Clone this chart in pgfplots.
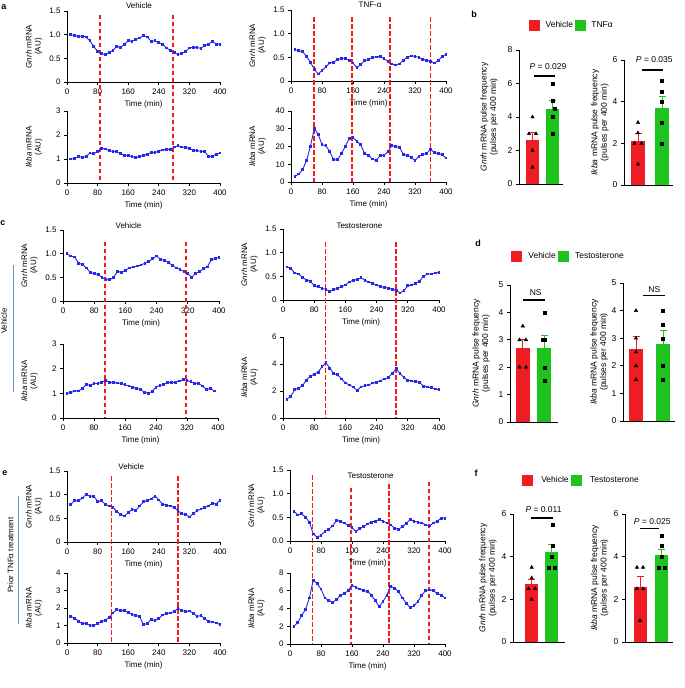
\documentclass[border=0pt]{standalone}
\usepackage{pgfplots}
\pgfplotsset{compat=1.18}
\usepackage{fontspec}
\setmainfont{Liberation Sans}
\definecolor{vred}{RGB}{240,28,36}
\definecolor{vgreen}{RGB}{30,195,30}
\definecolor{dred}{RGB}{245,25,25}
\definecolor{lblue}{RGB}{40,40,235}
\definecolor{sideblue}{RGB}{90,150,220}
\newcommand{\fs}{\fontsize{8}{9}\selectfont}
\newcommand{\fb}{\fontsize{8.5}{9.5}\selectfont}
\pgfplotsset{
 lineax/.style={scale only axis, anchor=south west, axis lines=left,
   axis line style={-, line width=0.9pt}, every tick/.style={black, line width=0.9pt},
   tick align=outside, major tick length=3pt, xmin=0, xmax=400, ymin=0,
   xtick={0,80,...,400}, clip=false, xlabel={Time (min)},
   ticklabel style={font=\fs}, label style={font=\fs},
   ylabel style={at={(axis description cs:-0.215,0.5)}, anchor=center, align=center},
   /pgf/number format/assume math mode=true, title style={font=\fs, anchor=center}},
 dat/.style={color=lblue, line width=0.9pt, mark=square*, mark size=0.9pt},
 rdash/.style={draw=dred, color=dred, line width=1.7pt, dash pattern=on 4.5pt off 2.5pt},
 barax/.style={scale only axis, anchor=south west, axis lines=left,
   axis line style={-, line width=0.9pt}, xtick=\empty, ymin=0, xmin=0, clip=false,
   tick align=outside, major tick length=3pt, every tick/.style={black, line width=0.9pt},
   ticklabel style={font=\fb}, label style={font=\fb},
   ylabel style={anchor=center, align=center},
   /pgf/number format/assume math mode=true},
 bars/.style 2 args={ybar, bar shift=0pt, bar width=#1, fill=#2, draw=none, forget plot,
   error bars/.cd, y dir=plus, y explicit, error bar style={color=#2, line width=1pt},
   error mark options={rotate=90, mark size=3.5pt, color=#2, line width=1pt}},
 tri/.style={only marks, mark=triangle*, mark size=2pt, black, forget plot},
 sqr/.style={only marks, mark=square*, mark size=1.5pt, black, forget plot},
 sig/.style={black, line width=1.3pt, forget plot},
 sqleg/.style={legend image code/.code={\fill[#1] (0pt,-5pt) rectangle (10pt,5pt);}},
}
\begin{document}
\begin{tikzpicture}
\path[use as bounding box] (0,0) rectangle (685pt,-688pt);
% ---------- panel a ----------
\begin{axis}[lineax, at={(67pt,-82pt)}, width=153pt, height=71pt, ymax=1.5,
  ytick={0,0.5,1,1.5}, yticklabels={0,0.5,1.0,1.5},
  ylabel={\textit{Gnrh} mRNA\\(AU)}, title={Vehicle}, title style={at={(axis description cs:0.47,0.985)}}]
\addplot[dat] coordinates {(10,1.00)(20,0.98)(30,0.97)(40,0.97)(50,0.95)(60,0.87)(70,0.75)(80,0.65)(90,0.60)(100,0.58)(110,0.62)(120,0.67)(130,0.75)(140,0.73)(150,0.80)(160,0.87)(170,0.86)(180,0.90)(190,0.93)(200,0.98)(210,0.95)(220,0.86)(230,0.87)(240,0.83)(250,0.80)(260,0.72)(270,0.67)(280,0.62)(290,0.58)(300,0.60)(310,0.65)(320,0.72)(330,0.73)(340,0.73)(350,0.71)(360,0.77)(370,0.80)(380,0.86)(390,0.80)(400,0.80)};
\addplot[rdash] coordinates {(86,1.416)(86,-2.134)};
\addplot[rdash] coordinates {(277,1.416)(277,-2.134)};
\end{axis}
\begin{axis}[lineax, at={(67pt,-183pt)}, width=153pt, height=72pt, ymax=3,
  ytick={0,1,2,3}, ylabel={\textit{Ikba} mRNA\\(AU)}]
\addplot[dat] coordinates {(10,1.00)(20,1.02)(30,1.10)(40,1.08)(50,1.10)(60,1.25)(70,1.22)(80,1.32)(90,1.45)(100,1.42)(110,1.35)(120,1.32)(130,1.30)(140,1.22)(150,1.15)(160,1.14)(170,1.10)(180,1.05)(190,1.10)(200,1.15)(210,1.20)(220,1.27)(230,1.27)(240,1.32)(250,1.38)(260,1.40)(270,1.40)(280,1.50)(290,1.55)(300,1.50)(310,1.48)(320,1.45)(330,1.35)(340,1.35)(350,1.32)(360,1.32)(370,1.10)(380,1.12)(390,1.20)(400,1.25)};
\end{axis}
\begin{axis}[lineax, at={(291pt,-81pt)}, width=155pt, height=71pt, ymax=1.5,
  ytick={0,0.5,1,1.5}, yticklabels={0,0.5,1.0,1.5},
  ylabel={\textit{Gnrh} mRNA\\(AU)}, title={TNF-α}, title style={at={(axis description cs:0.51,0.99)}}]
\addplot[dat] coordinates {(10,0.66)(20,0.64)(30,0.62)(40,0.52)(50,0.40)(60,0.25)(70,0.15)(80,0.22)(90,0.30)(100,0.38)(110,0.40)(120,0.45)(130,0.48)(140,0.48)(150,0.44)(160,0.38)(170,0.28)(180,0.35)(190,0.43)(200,0.45)(210,0.50)(220,0.51)(230,0.52)(240,0.47)(250,0.42)(260,0.36)(270,0.34)(280,0.36)(290,0.44)(300,0.50)(310,0.53)(320,0.52)(330,0.50)(340,0.46)(350,0.43)(360,0.42)(370,0.38)(380,0.43)(390,0.52)(400,0.56)};
\addplot[rdash] coordinates {(59,1.352)(59,-2.134)};
\addplot[rdash] coordinates {(157,1.352)(157,-2.134)};
\addplot[rdash] coordinates {(256,1.352)(256,-2.134)};
\addplot[rdash] coordinates {(360,1.352)(360,-2.134)};
\end{axis}
\begin{axis}[lineax, at={(291pt,-182pt)}, width=155pt, height=71pt, ymax=40,
  ytick={0,10,20,30,40}, ylabel={\textit{Ikba} mRNA\\(AU)}]
\addplot[dat] coordinates {(10,3)(20,4.5)(30,7)(40,12)(50,20)(60,30)(70,27)(80,21)(90,20.5)(100,17)(110,12.5)(120,12.5)(130,16)(140,20)(150,24.5)(160,25)(170,23)(180,21)(190,16)(200,15)(210,13)(220,12)(230,15)(240,15)(250,17)(260,20.5)(270,20)(280,19.5)(290,15.5)(300,15)(310,14)(320,12)(330,14.5)(340,15.5)(350,16)(360,18.5)(370,16.5)(380,16)(390,15.5)(400,13.5)};
\end{axis}
% ---------- panel c ----------
\begin{axis}[lineax, at={(63pt,-301pt)}, width=156pt, height=71pt, ymax=1.5,
  ytick={0,0.5,1,1.5}, yticklabels={0,0.5,1.0,1.5},
  ylabel={\textit{Gnrh} mRNA\\(AU)}, title={Vehicle}, title style={at={(axis description cs:0.42,0.97)}}]
\addplot[dat] coordinates {(10,1.00)(20,0.95)(30,0.93)(40,0.80)(50,0.77)(60,0.70)(70,0.60)(80,0.58)(90,0.56)(100,0.50)(110,0.45)(120,0.45)(130,0.50)(140,0.63)(150,0.60)(160,0.65)(170,0.70)(180,0.72)(190,0.74)(200,0.76)(210,0.80)(220,0.83)(230,0.90)(240,0.95)(250,0.88)(260,0.86)(270,0.82)(280,0.75)(290,0.70)(300,0.67)(310,0.62)(320,0.58)(330,0.50)(340,0.58)(350,0.62)(360,0.68)(370,0.72)(380,0.87)(390,0.90)(400,0.92)};
\addplot[rdash] coordinates {(107,1.247)(107,-2.472)};
\addplot[rdash] coordinates {(315,1.247)(315,-2.472)};
\end{axis}
\begin{axis}[lineax, at={(63pt,-418pt)}, width=155pt, height=74pt, ymax=3,
  ytick={0,1,2,3}, ylabel={\textit{Ikba} mRNA\\(AU)}]
\addplot[dat] coordinates {(10,1.00)(20,1.02)(30,1.10)(40,1.10)(50,1.20)(60,1.35)(70,1.32)(80,1.40)(90,1.40)(100,1.45)(110,1.52)(120,1.45)(130,1.43)(140,1.42)(150,1.40)(160,1.35)(170,1.30)(180,1.25)(190,1.20)(200,1.15)(210,1.05)(220,1.00)(230,1.08)(240,1.25)(250,1.33)(260,1.35)(270,1.45)(280,1.43)(290,1.45)(300,1.50)(310,1.55)(320,1.52)(330,1.47)(340,1.40)(350,1.40)(360,1.30)(370,1.15)(380,1.20)(390,1.10)};
\end{axis}
\begin{axis}[lineax, at={(283pt,-300pt)}, width=156pt, height=71pt, ymax=1.5,
  ytick={0,0.5,1,1.5}, yticklabels={0,0.5,1.0,1.5},
  ylabel={\textit{Gnrh} mRNA\\(AU)}, title={Testosterone}, title style={at={(axis description cs:0.49,0.96)}}]
\addplot[dat] coordinates {(10,0.70)(20,0.67)(30,0.57)(40,0.55)(50,0.48)(60,0.42)(70,0.40)(80,0.30)(90,0.28)(100,0.25)(110,0.22)(120,0.18)(130,0.22)(140,0.25)(150,0.28)(160,0.32)(170,0.38)(180,0.42)(190,0.43)(200,0.47)(210,0.42)(220,0.38)(230,0.35)(240,0.32)(250,0.28)(260,0.27)(270,0.25)(280,0.23)(290,0.20)(300,0.15)(310,0.20)(320,0.30)(330,0.32)(340,0.35)(350,0.40)(360,0.50)(370,0.55)(380,0.55)(390,0.57)(400,0.58)};
\addplot[rdash] coordinates {(109,1.225)(109,-2.493)};
\addplot[rdash] coordinates {(290,1.225)(290,-2.493)};
\end{axis}
\begin{axis}[lineax, at={(283pt,-418pt)}, width=156pt, height=81pt, ymax=6,
  ytick={0,2,4,6}, ylabel={\textit{Ikba} mRNA\\(AU)}]
\addplot[dat] coordinates {(10,1.40)(20,1.60)(30,2.10)(40,2.20)(50,2.40)(60,2.80)(70,3.10)(80,3.25)(90,3.40)(100,3.80)(110,4.10)(120,3.70)(130,3.30)(140,3.20)(150,2.90)(160,2.60)(170,2.45)(180,2.30)(190,2.05)(200,2.30)(210,2.40)(220,2.45)(230,2.60)(240,2.65)(250,2.75)(260,2.90)(270,3.00)(280,3.30)(290,3.65)(300,3.30)(310,3.00)(320,2.80)(330,2.75)(340,2.70)(350,2.65)(360,2.35)(370,2.30)(380,2.25)(390,2.15)(400,2.10)};
\end{axis}
% ---------- panel e ----------
\begin{axis}[lineax, at={(67pt,-542pt)}, width=153pt, height=71pt, ymax=1.5,
  ytick={0,0.5,1,1.5}, yticklabels={0,0.5,1.0,1.5},
  ylabel={\textit{Gnrh} mRNA\\(AU)}, title={Vehicle}, title style={at={(axis description cs:0.42,0.97)}}]
\addplot[dat] coordinates {(10,0.80)(20,0.87)(30,0.87)(40,0.93)(50,1.00)(60,0.97)(70,0.97)(80,0.86)(90,0.87)(100,0.80)(110,0.76)(120,0.73)(130,0.65)(140,0.58)(150,0.55)(160,0.62)(170,0.69)(180,0.67)(190,0.76)(200,0.85)(210,0.88)(220,0.91)(230,0.97)(240,0.89)(250,0.80)(260,0.78)(270,0.76)(280,0.73)(290,0.66)(300,0.60)(310,0.58)(320,0.53)(330,0.60)(340,0.66)(350,0.70)(360,0.73)(370,0.76)(380,0.82)(390,0.80)(400,0.88)};
\addplot[rdash] coordinates {(116,1.394)(116,-2.134)};
\addplot[rdash] coordinates {(291,1.394)(291,-2.134)};
\end{axis}
\begin{axis}[lineax, at={(67pt,-643pt)}, width=153pt, height=70pt, ymax=4,
  ytick={0,1,2,3,4}, ylabel={\textit{Ikba} mRNA\\(AU)}]
\addplot[dat] coordinates {(10,1.52)(20,1.42)(30,1.25)(40,1.10)(50,1.12)(60,1.02)(70,1.00)(80,1.12)(90,1.22)(100,1.30)(110,1.45)(120,1.72)(130,1.90)(140,1.85)(150,1.85)(160,1.75)(170,1.63)(180,1.58)(190,1.50)(200,1.05)(210,1.12)(220,1.33)(230,1.28)(240,1.40)(250,1.60)(260,1.70)(270,1.72)(280,1.80)(290,1.98)(300,1.85)(310,1.80)(320,1.83)(330,1.70)(340,1.52)(350,1.57)(360,1.40)(370,1.22)(380,1.20)(390,1.15)(400,1.05)};
\end{axis}
\begin{axis}[lineax, at={(290pt,-541pt)}, width=155pt, height=71pt, ymax=1.5,
  ytick={0,0.5,1,1.5}, yticklabels={0.0,0.5,1.0,1.5}, xticklabels={0,80,100,240,320,400},
  ylabel={\textit{Gnrh} mRNA\\(AU)}, title={Testosterone}, title style={at={(axis description cs:0.52,0.83)}}]
\addplot[dat] coordinates {(10,0.63)(20,0.55)(30,0.58)(40,0.50)(50,0.40)(60,0.15)(70,0.08)(80,0.12)(90,0.20)(100,0.25)(110,0.32)(120,0.43)(130,0.42)(140,0.38)(150,0.33)(160,0.28)(170,0.20)(180,0.26)(190,0.30)(200,0.36)(210,0.40)(220,0.42)(230,0.45)(240,0.42)(250,0.38)(260,0.34)(270,0.27)(280,0.25)(290,0.30)(300,0.37)(310,0.45)(320,0.42)(330,0.40)(340,0.38)(350,0.34)(360,0.32)(370,0.38)(380,0.42)(390,0.48)(400,0.48)};
\addplot[rdash] coordinates {(58,1.394)(58,-2.176)};
\addplot[rdash] coordinates {(157,1.12)(157,-2.176)};
\addplot[rdash] coordinates {(256,1.204)(256,-2.176)};
\addplot[rdash] coordinates {(358,1.247)(358,-2.176)};
\end{axis}
\begin{axis}[lineax, at={(290pt,-644pt)}, width=155pt, height=71pt, ymax=8,
  ytick={0,2,4,6,8}, ylabel={\textit{Ikba} mRNA\\(AU)}]
\addplot[dat] coordinates {(10,2.0)(20,2.4)(30,3.2)(40,3.9)(50,5.2)(60,7.2)(70,6.8)(80,6.2)(90,5.2)(100,4.9)(110,4.7)(120,5.0)(130,5.5)(140,5.7)(150,6.0)(160,6.6)(170,6.4)(180,6.2)(190,6.0)(200,5.95)(210,5.5)(220,4.9)(230,4.2)(240,4.8)(250,5.5)(260,6.5)(270,6.3)(280,5.9)(290,5.2)(300,4.6)(310,4.1)(320,4.3)(330,4.8)(340,5.5)(350,6.0)(360,6.1)(370,6.0)(380,5.7)(390,5.5)(400,5.2)};
\end{axis}
% ---------- panel b ----------
\begin{axis}[barax, at={(519pt,-184pt)}, width=44pt, height=134pt, xmax=44, ymax=8,
  ytick={0,2,4,6,8}, ylabel={\textit{Gnrh} mRNA pulse frequency\\(pulses per 400 min)},
  ylabel style={at={(axis description cs:-0.68,0.5)}},
  legend style={at={(axis description cs:0.227,1.187)}, anchor=west, draw=none, fill=none,
    inner sep=0pt, font=\fb, legend columns=2, /tikz/every odd column/.append style={column sep=4pt}},
  legend cell align=left]
\addplot[bars={13pt}{vred}] coordinates {(13.5,2.6) +- (0,0.5)};
\addplot[bars={13pt}{vgreen}] coordinates {(33.5,4.5) +- (0,0.5)};
\addplot[tri] coordinates {(13.5,4)(10,3)(17,3)(13.5,2)(13.5,1)};
\addplot[sqr] coordinates {(33.5,6)(33.5,5)(36,4.5)(33.5,4)(33.5,3)};
\addplot[sig] coordinates {(15,6.45)(36,6.45)};
\node[font=\fb] at (axis cs:29,7.0) {\textit{P} = 0.029};
\addlegendimage{sqleg=vred}\addlegendentry{Vehicle}
\addlegendimage{sqleg=vgreen}\addlegendentry{TNFα}
\end{axis}
\begin{axis}[barax, at={(624pt,-185pt)}, width=49pt, height=125pt, xmax=49, ymax=6,
  ytick={0,2,4,6}, ylabel={\textit{Ikba} mRNA pulse frequency\\(pulses per 400 min)},
  ylabel style={at={(axis description cs:-0.49,0.5)}}]
\addplot[bars={14pt}{vred}] coordinates {(14,2.1) +- (0,0.35)};
\addplot[bars={14pt}{vgreen}] coordinates {(38,3.7) +- (0,0.55)};
\addplot[tri] coordinates {(14,3)(14,2.5)(10.5,2)(17.5,2)(14,1)};
\addplot[sqr] coordinates {(38,5)(38,4.5)(38,4)(38,3)(38,2)};
\addplot[sig] coordinates {(17.7,5.52)(39,5.52)};
\node[font=\fb] at (axis cs:30.3,6.0) {\textit{P} = 0.035};
\end{axis}
% ---------- panel d ----------
\begin{axis}[barax, at={(510pt,-422pt)}, width=48pt, height=137pt, xmax=48, ymax=5,
  ytick={0,1,2,3,4,5}, ylabel={\textit{Gnrh} mRNA pulse frequency\\(pulses per 400 min)},
  ylabel style={at={(axis description cs:-0.6,0.5)}},
  legend style={at={(axis description cs:0.015,1.212)}, anchor=west, draw=none, fill=none,
    inner sep=0pt, font=\fb, legend columns=2, /tikz/every odd column/.append style={column sep=5pt}},
  legend cell align=left]
\addplot[bars={14pt}{vred}] coordinates {(12.8,2.7) +- (0,0.3)};
\addplot[bars={14pt}{vgreen}] coordinates {(34.3,2.7) +- (0,0.45)};
\addplot[tri] coordinates {(12.8,3.5)(9.5,3)(16,3)(9.5,2)(16,2)};
\addplot[sqr] coordinates {(35,4)(35,3)(33,3)(35,2)(35,1.5)};
\addplot[sig] coordinates {(13.3,4.45)(35,4.45)};
\node[font=\fb] at (axis cs:25.7,4.71) {NS};
\addlegendimage{sqleg=vred}\addlegendentry{Vehicle}
\addlegendimage{sqleg=vgreen}\addlegendentry{Testosterone}
\end{axis}
\begin{axis}[barax, at={(623pt,-421pt)}, width=52pt, height=138pt, xmax=52, ymax=5,
  ytick={0,1,2,3,4,5}, ylabel={\textit{Ikba} mRNA pulse frequency\\(pulses per 400 min)},
  ylabel style={at={(axis description cs:-0.46,0.5)}}]
\addplot[bars={14pt}{vred}] coordinates {(13,2.6) +- (0,0.45)};
\addplot[bars={14pt}{vgreen}] coordinates {(40,2.8) +- (0,0.48)};
\addplot[tri] coordinates {(13,4)(13,3)(13,2.5)(13,2)(13,1.5)};
\addplot[sqr] coordinates {(40,4)(40,3.5)(40,3)(40,2)(40,1.5)};
\addplot[sig] coordinates {(19.7,4.54)(42,4.54)};
\node[font=\fb] at (axis cs:31.3,4.75) {NS};
\end{axis}
% ---------- panel f ----------
\begin{axis}[barax, at={(513pt,-642pt)}, width=52pt, height=128pt, xmax=52, ymax=6,
  ytick={0,2,4,6}, ylabel={\textit{Gnrh} mRNA pulse frequency\\(pulses per 400 min)},
  ylabel style={at={(axis description cs:-0.48,0.5)}},
  legend style={at={(axis description cs:0.167,1.266)}, anchor=west, draw=none, fill=none,
    inner sep=0pt, font=\fb, legend columns=2, /tikz/every odd column/.append style={column sep=7pt}},
  legend cell align=left]
\addplot[bars={13pt}{vred}] coordinates {(18.7,2.7) +- (0,0.25)};
\addplot[bars={13pt}{vgreen}] coordinates {(38.8,4.2) +- (0,0.35)};
\addplot[tri] coordinates {(18.7,3.5)(18.7,3)(15.5,2.5)(22,2.5)(18.7,2)};
\addplot[sqr] coordinates {(40,5.5)(40,4.5)(38.8,4)(36,3.5)(42,3.5)};
\addplot[sig] coordinates {(18,5.81)(40.3,5.81)};
\node[font=\fb] at (axis cs:30.5,6.19) {\textit{P} = 0.011};
\addlegendimage{sqleg=vred}\addlegendentry{Vehicle}
\addlegendimage{sqleg=vgreen}\addlegendentry{Testosterone}
\end{axis}
\begin{axis}[barax, at={(625pt,-642pt)}, width=48pt, height=128pt, xmax=48, ymax=6,
  ytick={0,2,4,6}, ylabel={\textit{Ikba} mRNA pulse frequency\\(pulses per 400 min)},
  ylabel style={at={(axis description cs:-0.53,0.5)}}]
\addplot[bars={13pt}{vred}] coordinates {(15,2.6) +- (0,0.45)};
\addplot[bars={13pt}{vgreen}] coordinates {(36.7,4.1) +- (0,0.25)};
\addplot[tri] coordinates {(12,3.5)(18,3.5)(12,2.5)(18,2.5)(15,1)};
\addplot[sqr] coordinates {(36.7,5)(36.7,4.5)(36.7,4)(34,3.5)(39.5,3.5)};
\addplot[sig] coordinates {(15,5.33)(34.3,5.33)};
\node[font=\fb] at (axis cs:27.3,5.64) {\textit{P} = 0.025};
\end{axis}
% ---------- side labels and panel letters ----------
\node[rotate=90, font=\fs] at (4pt,-321pt) {Vehicle};
\draw[sideblue, line width=0.9pt] (13pt,-265pt) -- (13pt,-392pt);
\node[rotate=90, font=\fs] at (10.5pt,-555pt) {Prior TNFα treatment};
\draw[sideblue, line width=0.9pt] (18.3pt,-496pt) -- (18.3pt,-624pt);
\node[font=\bfseries\fontsize{9}{10}\selectfont] at (4pt,-7pt) {a};
\node[font=\bfseries\fontsize{9}{10}\selectfont] at (474pt,-14pt) {b};
\node[font=\bfseries\fontsize{9}{10}\selectfont] at (3pt,-223pt) {c};
\node[font=\bfseries\fontsize{9}{10}\selectfont] at (478pt,-243pt) {d};
\node[font=\bfseries\fontsize{9}{10}\selectfont] at (5pt,-473pt) {e};
\node[font=\bfseries\fontsize{9}{10}\selectfont] at (476pt,-473pt) {f};
\end{tikzpicture}
\end{document}
